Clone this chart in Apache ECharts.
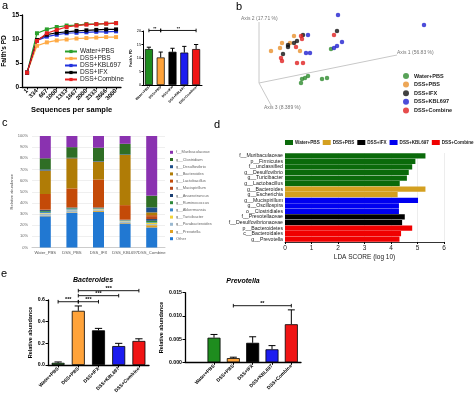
<!DOCTYPE html>
<html>
<head>
<meta charset="utf-8">
<script src="https://cdn.jsdelivr.net/npm/echarts@6/dist/echarts.min.js"></script>
<style>html,body{margin:0;padding:0;background:#fff}#main{width:474px;height:397px}</style>
</head>
<body>
<div id="main"></div>
<script>
// ---- panel a : rarefaction curves ----
var depthTicks = ['1','334','667','1000','1333','1667','2000','2333','2666','3000'];
var pdWater   = [3, 11.2, 12.0, 12.5, 12.8, 12.9, 13.1, 13.1, 13.2, 13.3];
var pdDssPbs  = [3, 8.6, 9.3, 9.7, 9.9, 10.1, 10.2, 10.3, 10.4, 10.4];
var pdKbl     = [3, 9.7, 10.5, 10.9, 11.2, 11.3, 11.4, 11.5, 11.5, 11.6];
var pdIfx     = [3, 9.8, 10.9, 11.3, 11.5, 11.7, 11.8, 11.9, 12.0, 12.0];
var pdCombine = [3, 9.6, 11.2, 11.9, 12.5, 12.8, 13.0, 13.1, 13.2, 13.3];

// inset + panel e share this group order
var barGroups = ['Water+PBS','DSS+PBS','DSS+IFX','DSS+KBL697','DSS+Combine'];
var barColors = ['#1e8c1e','#ffa33a','#000000','#1c1cf0','#f01414'];
var pdMean = [13.3, 10.2, 12.3, 12.0, 13.3];
var pdErr  = [0.7, 2.0, 1.3, 2.3, 1.7];
var pdSig  = [[0, 1, 20.2], [1, 4, 20.2]];
var pdSigText = ['**', '**'];

// ---- panel b : PCoA (projected) ----
var pcWater   = [[72,34],[49,7],[46,5],[43,4],[42,0],[63,4],[68,5]];
var pcDssPbs  = [[35,47],[31,40],[23,40],[21,35],[12,32],[41,32]];
var pcIfx     = [[78,52],[44,48],[38,42],[35,40],[29,38],[29,36],[24,29]];
var pcKbl     = [[79,68],[165,58],[49,48],[83,41],[78,37],[75,35],[47,30],[51,30]];
var pcCombine = [[75,48],[42,47],[43,44],[37,36],[22,25],[23,22],[38,20],[44,20]];
var pcAxis1 = [[0,0],[138,28]];
var pcAxis2 = [[0,0],[0,61]];
var pcAxis3 = [[0,0],[13,-24]];

// ---- panel c : relative abundance (%) ----
var sampleNames = ['Water_PBS','DSS_PBS','DSS_IFX','DSS_KBL697','DSS_Combine'];
var taxa = ['Other','g__Prevotella','g__Parabacteroides','g__Turicibacter','g__Akkermansia',
  'g__Ruminococcus','g__Anaerotruncus','g__Mucispirillum','g__Lactobacillus','g__Bacteroides',
  'g__Desulfovibrio','g__Clostridium','f__Muribaculaceae'];
var taxaColors = ['#2178d2','#e0a020','#9ab8d0','#f2d33a','#3a86c8','#2e8a3a','#1b3f73',
  '#b8491c','#c44a08','#b07c06','#1d4f8a','#2f6e25','#8a32b0'];
var abWater   = [28, 0.5, 2, 0.5, 1, 0.8, 0.8, 0.4, 14, 21, 1, 10, 20];
var abDssPbs  = [31, 0.5, 2, 0.5, 0.8, 0.5, 0.5, 0.2, 17, 27, 0.5, 9.5, 10];
var abIfx     = [32, 1, 1.2, 0.5, 0.3, 0.3, 0.5, 0.2, 25, 16, 0.5, 12, 10.5];
var abKbl     = [21.5, 0.5, 1.5, 0.5, 0.3, 0.2, 0.3, 0.2, 13, 45, 0.5, 9.5, 7];
var abCombine = [18, 2, 1, 1, 0.5, 1.5, 1.5, 2, 1.5, 2.5, 4.5, 10.5, 53.5];

// ---- panel d : LEfSe ----
var ldaLabels = ['f__Muribaculaceae','p__Firmicutes','f__unclassified','g__Desulfovibrio',
  'g__Turicibacter','g__Lactobacillus','g__Bacteroides','g__Escherichia','g__Mucispirillum',
  'g__Oscillospira','o__Clostridiales','f__Prevotellaceae','f__Desulfovibrionaceae',
  'p__Bacteroidetes','c__Bacteroidales','g__Prevotella'];
var ldaScores = [5.3, 4.92, 4.8, 4.67, 4.6, 4.33, 5.3, 4.25, 5.02, 4.3, 4.3, 4.52, 4.42, 4.8, 4.38, 4.32];
var ldaGroup  = [0, 0, 0, 0, 0, 0, 1, 1, 3, 3, 3, 2, 2, 4, 4, 4];
var ldaColors = ['#0a6a0a','#d4a020','#000000','#0000f0','#f00000'];

// ---- panel e ----
var bacMean = [0.02, 0.50, 0.32, 0.175, 0.222];
var bacErr  = [0.008, 0.045, 0.018, 0.025, 0.02];
var bacSig  = [[0, 1, 0.584], [1, 2, 0.584], [1, 3, 0.64], [1, 4, 0.686]];
var bacSigText = ['***', '***', '***', '***'];
var prevCats = [''].concat(barGroups);
var prevMean = [0.0053, 0.0009, 0.0042, 0.0028, 0.0082];
var prevErr  = [0.0007, 0.0002, 0.0013, 0.0008, 0.0031];
var prevSig  = [[2, 5, 0.0122]];
var prevSigText = ['**'];

var FONT = 'Liberation Sans, Arial, sans-serif';
var chart = echarts.init(document.getElementById('main'));

function strip(n) { return n.split('|')[1]; }

function errSeries(xi, data) {
  return {
    type: 'custom', xAxisIndex: xi, yAxisIndex: xi, z: 5, silent: true,
    data: data, encode: { x: 0, y: 1 },
    renderItem: function (params, api) {
      var p0 = api.coord([api.value(0), api.value(1)]);
      var p1 = api.coord([api.value(0), api.value(1) + api.value(2)]);
      var w = api.size([1, 0])[0] * 0.18;
      var st = { stroke: '#000', lineWidth: 1 };
      return { type: 'group', children: [
        { type: 'line', shape: { x1: p0[0], y1: p0[1], x2: p1[0], y2: p1[1] }, style: st },
        { type: 'line', shape: { x1: p1[0] - w, y1: p1[1], x2: p1[0] + w, y2: p1[1] }, style: st }
      ]};
    }
  };
}

function sigSeries(xi, data, texts, fs) {
  return {
    type: 'custom', xAxisIndex: xi, yAxisIndex: xi, z: 5, silent: true, clip: false,
    data: data, encode: { x: 0, y: 2 },
    renderItem: function (params, api) {
      var a = api.coord([api.value(0), api.value(2)]);
      var b = api.coord([api.value(1), api.value(2)]);
      var st = { stroke: '#000', lineWidth: 0.9 };
      return { type: 'group', children: [
        { type: 'line', shape: { x1: a[0], y1: a[1], x2: b[0], y2: b[1] }, style: st },
        { type: 'line', shape: { x1: a[0], y1: a[1] - 1.8, x2: a[0], y2: a[1] + 1.8 }, style: st },
        { type: 'line', shape: { x1: b[0], y1: b[1] - 1.8, x2: b[0], y2: b[1] + 1.8 }, style: st },
        { type: 'text', style: { text: texts[params.dataIndex], x: (a[0] + b[0]) / 2, y: a[1] + 0.5,
          align: 'center', verticalAlign: 'bottom', font: 'bold ' + fs + 'px ' + FONT, fill: '#000' } }
      ]};
    }
  };
}

function colored(vals, offset) {
  var out = [];
  for (var i = 0; i < (offset || 0); i++) out.push('-');
  vals.forEach(function (v, i) {
    out.push({ value: v, itemStyle: { color: barColors[i] } });
  });
  return out;
}
function errData(means, errs, offset) {
  return means.map(function (m, i) { return [i + (offset || 0), m, errs[i]]; });
}

var blackAxis = { show: true, lineStyle: { color: '#000', width: 1.3 } };
var blackTick = { show: true, length: 2.5, lineStyle: { color: '#000', width: 1 } };

var lineDefs = [
  ['a|Water+PBS', pdWater, '#2ca02c'],
  ['a|DSS+PBS', pdDssPbs, '#ffaa44'],
  ['a|DSS+KBL697', pdKbl, '#2233dd'],
  ['a|DSS+IFX', pdIfx, '#000000'],
  ['a|DSS+Combine', pdCombine, '#e82020']
];
var scatterDefs = [
  ['b|Water+PBS', pcWater, '#2e8b2e'],
  ['b|DSS+PBS', pcDssPbs, '#e8912d'],
  ['b|DSS+IFX', pcIfx, '#111111'],
  ['b|DSS+KBL697', pcKbl, '#2020d0'],
  ['b|DSS+Combine', pcCombine, '#e02020']
];
var abRows = [abWater, abDssPbs, abIfx, abKbl, abCombine];

var series = [];
lineDefs.forEach(function (d) {
  series.push({ name: d[0], type: 'line', xAxisIndex: 0, yAxisIndex: 0, data: d[1],
    symbol: 'rect', symbolSize: 4, color: d[2], lineStyle: { width: 1.2 } });
});
series.push({ type: 'bar', xAxisIndex: 1, yAxisIndex: 1, barWidth: 8, data: colored(pdMean),
  itemStyle: { borderColor: '#000', borderWidth: 0.7 } });
series.push(errSeries(1, errData(pdMean, pdErr)));
series.push(sigSeries(1, pdSig, pdSigText, 4));

[pcAxis1, pcAxis2, pcAxis3].forEach(function (ax) {
  series.push({ type: 'line', xAxisIndex: 2, yAxisIndex: 2, data: ax, symbol: 'none', silent: true,
    lineStyle: { color: '#c8c8c8', width: 1 } });
});
scatterDefs.forEach(function (d) {
  series.push({ name: d[0], type: 'scatter', xAxisIndex: 2, yAxisIndex: 2, data: d[1],
    symbolSize: 4.5, color: d[2] });
});

taxa.forEach(function (t, k) {
  series.push({ name: 'c|' + t, type: 'bar', stack: 'ab', xAxisIndex: 3, yAxisIndex: 3, barWidth: 11,
    color: taxaColors[k], data: abRows.map(function (r) { return r[k]; }) });
});

barGroups.forEach(function (g, gIdx) {
  series.push({ name: 'd|' + g, type: 'bar', stack: 'lda', xAxisIndex: 4, yAxisIndex: 4,
    barCategoryGap: '6%', color: ldaColors[gIdx],
    data: ldaScores.map(function (v, i) { return ldaGroup[i] === gIdx ? v : '-'; }) });
});

series.push({ type: 'bar', xAxisIndex: 5, yAxisIndex: 5, barWidth: 13, data: colored(bacMean),
  itemStyle: { borderColor: '#000', borderWidth: 0.8 } });
series.push(errSeries(5, errData(bacMean, bacErr)));
series.push(sigSeries(5, bacSig, bacSigText, 5.5));

series.push({ type: 'bar', xAxisIndex: 6, yAxisIndex: 6, barWidth: 13, data: colored(prevMean, 1),
  itemStyle: { borderColor: '#000', borderWidth: 0.8 } });
series.push(errSeries(6, errData(prevMean, prevErr, 1)));
series.push(sigSeries(6, prevSig, prevSigText, 5.5));

var option = {
  animation: false,
  textStyle: { fontFamily: FONT },
  grid: [
    { left: 22, top: 15, width: 99, height: 72 },
    { left: 143, top: 31, width: 59, height: 54 },
    { left: 240, top: 0, width: 234, height: 115 },
    { left: 32, top: 136, width: 133, height: 111.5 },
    { left: 285, top: 153, width: 159, height: 89 },
    { left: 48, top: 300, width: 101, height: 65 },
    { left: 185, top: 292.7, width: 116, height: 69.6 }
  ],
  xAxis: [
    { gridIndex: 0, type: 'category', data: depthTicks, axisLine: blackAxis,
      axisTick: { show: true, alignWithLabel: true, length: 2.5, lineStyle: { color: '#000' } },
      axisLabel: { rotate: 45, fontSize: 6, fontWeight: 'bold', color: '#000', margin: 3, interval: 0 },
      name: 'Sequences per sample', nameLocation: 'middle', nameGap: 19,
      nameTextStyle: { fontSize: 7.5, fontWeight: 'bold', color: '#000' } },
    { gridIndex: 1, type: 'category', data: barGroups, axisLine: { show: true, lineStyle: { color: '#000', width: 1 } },
      axisTick: { show: true, alignWithLabel: true, length: 1.5 },
      axisLabel: { rotate: 45, fontSize: 3.4, fontWeight: 'bold', color: '#000', margin: 2, interval: 0 } },
    { gridIndex: 2, type: 'value', min: -19, max: 215, show: false },
    { gridIndex: 3, type: 'category', data: sampleNames,
      axisLine: { show: true, lineStyle: { color: '#ccc' } }, axisTick: { show: false },
      axisLabel: { fontSize: 4.2, color: '#555', margin: 3, interval: 0 } },
    { gridIndex: 4, type: 'value', min: 0, max: 6, interval: 1,
      axisLine: { show: true, lineStyle: { color: '#000', width: 0.8 } },
      axisTick: { show: true, length: 2, lineStyle: { color: '#000' } },
      splitLine: { show: true, lineStyle: { color: '#e0e0e0', width: 0.6 } },
      axisLabel: { fontSize: 6.5, color: '#222', margin: 3 },
      name: 'LDA SCORE (log 10)', nameLocation: 'middle', nameGap: 12,
      nameTextStyle: { fontSize: 6.5, color: '#222' } },
    { gridIndex: 5, type: 'category', data: barGroups, axisLine: blackAxis,
      axisTick: { show: true, alignWithLabel: true, length: 2.5, lineStyle: { color: '#000' } },
      axisLabel: { rotate: 45, fontSize: 4.8, fontWeight: 'bold', color: '#000', margin: 3, interval: 0 } },
    { gridIndex: 6, type: 'category', data: prevCats, axisLine: blackAxis,
      axisTick: { show: true, alignWithLabel: true, length: 2.5, lineStyle: { color: '#000' },
        interval: function (i) { return i > 0; } },
      axisLabel: { rotate: 45, fontSize: 4.8, fontWeight: 'bold', color: '#000', margin: 3, interval: 0 } }
  ],
  yAxis: [
    { gridIndex: 0, type: 'value', min: 0, max: 15, interval: 5, axisLine: blackAxis, axisTick: blackTick,
      splitLine: { show: false }, axisLabel: { fontSize: 6.5, fontWeight: 'bold', color: '#000', margin: 3 },
      name: "Faith's PD", nameLocation: 'middle', nameGap: 11,
      nameTextStyle: { fontSize: 6.5, fontWeight: 'bold', color: '#000' } },
    { gridIndex: 1, type: 'value', min: 0, max: 20, interval: 5,
      axisLine: { show: true, lineStyle: { color: '#000', width: 1 } },
      axisTick: { show: true, length: 1.5, lineStyle: { color: '#000' } },
      splitLine: { show: false }, axisLabel: { fontSize: 3.8, color: '#000', margin: 2 },
      name: "Faith's PD", nameLocation: 'middle', nameGap: 7,
      nameTextStyle: { fontSize: 3.6, fontWeight: 'bold', color: '#000' } },
    { gridIndex: 2, type: 'value', min: -32, max: 83, show: false },
    { gridIndex: 3, type: 'value', min: 0, max: 100, interval: 10,
      axisLine: { show: false }, axisTick: { show: false },
      splitLine: { show: true, lineStyle: { color: '#e4e4e4', width: 0.6 } },
      axisLabel: { fontSize: 4, color: '#666', margin: 4, formatter: '{value}%' },
      name: 'Relative abundance', nameLocation: 'middle', nameGap: 15,
      nameTextStyle: { fontSize: 4, color: '#555' } },
    { gridIndex: 4, type: 'category', data: ldaLabels, inverse: true,
      axisLine: { show: false }, axisTick: { show: false },
      axisLabel: { fontSize: 5.2, color: '#222', margin: 2, interval: 0 } },
    { gridIndex: 5, type: 'value', min: 0, max: 0.6, interval: 0.2, axisLine: blackAxis, axisTick: blackTick,
      splitLine: { show: false },
      axisLabel: { fontSize: 5.2, fontWeight: 'bold', color: '#000', margin: 3,
        formatter: function (v) { return v.toFixed(1); } },
      name: 'Relative abundance', nameLocation: 'middle', nameGap: 15,
      nameTextStyle: { fontSize: 5.5, fontWeight: 'bold', color: '#000' } },
    { gridIndex: 6, type: 'value', min: 0, max: 0.015, interval: 0.005, axisLine: blackAxis, axisTick: blackTick,
      splitLine: { show: false },
      axisLabel: { fontSize: 5.2, fontWeight: 'bold', color: '#000', margin: 3,
        formatter: function (v) { return v.toFixed(3); } },
      name: 'Relative abundance', nameLocation: 'middle', nameGap: 21,
      nameTextStyle: { fontSize: 5.5, fontWeight: 'bold', color: '#000' } }
  ],
  legend: [
    { data: lineDefs.map(function (d) { return d[0]; }), formatter: strip, orient: 'vertical',
      left: 64, top: 48, itemWidth: 12, itemHeight: 4, itemGap: 0, padding: 0,
      textStyle: { fontSize: 6.6, color: '#222', lineHeight: 7, padding: [0, 0, 0, -2] } },
    { data: scatterDefs.map(function (d) { return d[0]; }), formatter: strip, orient: 'vertical',
      left: 403, top: 73, icon: 'circle', itemWidth: 6, itemHeight: 6, itemGap: 2.6, padding: 0,
      textStyle: { fontSize: 5.5, fontWeight: 'bold', color: '#222' } },
    { data: taxa.slice().reverse().map(function (t) { return 'c|' + t; }), formatter: strip,
      orient: 'vertical', left: 170, top: 150, icon: 'rect', itemWidth: 3, itemHeight: 3, itemGap: 2.6,
      padding: 0, textStyle: { fontSize: 4, color: '#666', lineHeight: 4.6, padding: [0, 0, 0, -2] } },
    { data: barGroups.map(function (g) { return 'd|' + g; }), formatter: strip,
      left: 285, top: 140, icon: 'rect', itemWidth: 8, itemHeight: 5, itemGap: 3, padding: 0,
      textStyle: { fontSize: 4.6, fontWeight: 'bold', color: '#222', padding: [0, 0, 0, -3] } }
  ],
  graphic: [
    { type: 'text', left: 2, top: 0, style: { text: 'a', font: '11px ' + FONT, fill: '#000' } },
    { type: 'text', left: 236, top: 1, style: { text: 'b', font: '11px ' + FONT, fill: '#000' } },
    { type: 'text', left: 2, top: 117, style: { text: 'c', font: '11px ' + FONT, fill: '#000' } },
    { type: 'text', left: 214, top: 119, style: { text: 'd', font: '11px ' + FONT, fill: '#000' } },
    { type: 'text', left: 1, top: 268, style: { text: 'e', font: '11px ' + FONT, fill: '#000' } },
    { type: 'text', left: 241, top: 16, style: { text: 'Axis 2 (17.71 %)', font: '5px ' + FONT, fill: '#777' } },
    { type: 'text', left: 397, top: 50, style: { text: 'Axis 1 (56.83 %)', font: '5px ' + FONT, fill: '#777' } },
    { type: 'text', left: 264, top: 105, style: { text: 'Axis 3 (8.389 %)', font: '5px ' + FONT, fill: '#777' } },
    { type: 'text', x: 93, y: 277, style: { text: 'Bacteroides', font: 'italic bold 7px ' + FONT, fill: '#000', align: 'center' } },
    { type: 'text', x: 243, y: 278, style: { text: 'Prevotella', font: 'italic bold 7px ' + FONT, fill: '#000', align: 'center' } }
  ],
  series: series
};
chart.setOption(option);
</script>
</body>
</html>
